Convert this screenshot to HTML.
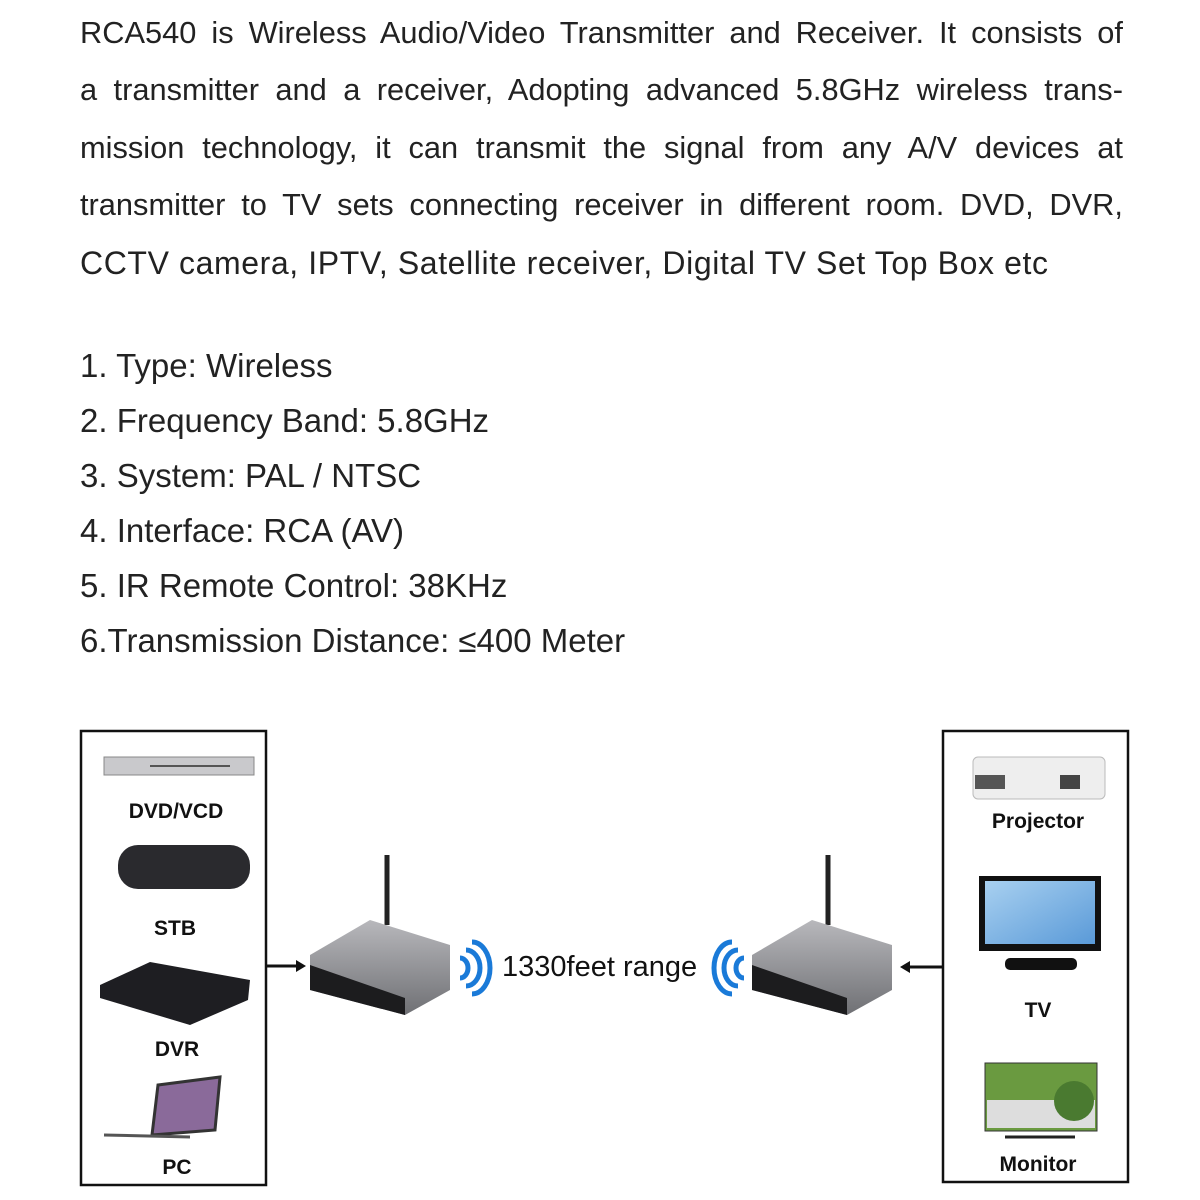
<!DOCTYPE html>
<html><head><meta charset="utf-8"><style>
body{margin:0;width:1200px;height:1200px;background:#fff;position:relative;overflow:hidden;font-family:"Liberation Sans",sans-serif;color:#222}
.l{position:absolute;left:80px;width:1043px;font-size:32px;letter-spacing:0.6px;line-height:34px;white-space:nowrap}
.j{text-align:justify;text-align-last:justify;white-space:normal;font-size:31px;letter-spacing:0;width:1050px;transform-origin:0 0;transform:scaleX(0.9933)}
.i{position:absolute;left:80px;font-size:33px;line-height:34px}
svg{position:absolute;left:0;top:0}
</style></head><body>
<div class="l j" style="top:16px">RCA540 is Wireless Audio/Video Transmitter and Receiver. It consists of</div>
<div class="l j" style="top:73px">a transmitter and a receiver, Adopting advanced 5.8GHz wireless trans-</div>
<div class="l j" style="top:131px">mission technology, it can transmit the signal from any A/V devices at</div>
<div class="l j" style="top:188px">transmitter to TV sets connecting receiver in different room. DVD, DVR,</div>
<div class="l" style="top:246px">CCTV camera, IPTV, Satellite receiver, Digital TV Set Top Box etc</div>
<div class="i" style="top:349px">1. Type: Wireless</div>
<div class="i" style="top:404px">2. Frequency Band: 5.8GHz</div>
<div class="i" style="top:459px">3. System: PAL / NTSC</div>
<div class="i" style="top:514px">4. Interface: RCA (AV)</div>
<div class="i" style="top:569px">5. IR Remote Control: 38KHz</div>
<div class="i" style="top:624px">6.Transmission Distance: ≤400 Meter</div>
<svg width="1200" height="1200" viewBox="0 0 1200 1200">
<defs>
<linearGradient id="g" x1="0" y1="0" x2="0" y2="1"><stop offset="0" stop-color="#b8b8bc"/><stop offset="1" stop-color="#6f7074"/></linearGradient>
<linearGradient id="tv" x1="0" y1="0" x2="1" y2="1"><stop offset="0" stop-color="#a8d0f0"/><stop offset="1" stop-color="#5a9ad8"/></linearGradient>
</defs>
<g fill="none" stroke="#111" stroke-width="2.5">
<rect x="81" y="731" width="185" height="454"/>
<rect x="943" y="731" width="185" height="451"/>
</g>
<rect x="104" y="757" width="150" height="18" fill="#c9c9cc" stroke="#888"/>
<line x1="150" y1="766" x2="230" y2="766" stroke="#555" stroke-width="2"/>
<text x="176" y="818" font-size="21" font-weight="bold" text-anchor="middle" fill="#111">DVD/VCD</text>
<rect x="118" y="845" width="132" height="44" rx="20" fill="#2a2a2e"/>
<text x="175" y="935" font-size="21" font-weight="bold" text-anchor="middle" fill="#111">STB</text>
<polygon points="100,985 150,962 250,980 248,1000 190,1025 100,998" fill="#1e1e22"/>
<text x="177" y="1056" font-size="21" font-weight="bold" text-anchor="middle" fill="#111">DVR</text>
<polygon points="158,1085 220,1077 215,1130 152,1135" fill="#8a6a9a" stroke="#333" stroke-width="3"/>
<line x1="104" y1="1135" x2="190" y2="1137" stroke="#555" stroke-width="3"/>
<text x="177" y="1174" font-size="21" font-weight="bold" text-anchor="middle" fill="#111">PC</text>
<rect x="973" y="757" width="132" height="42" rx="5" fill="#eee" stroke="#bbb"/>
<rect x="975" y="775" width="30" height="14" fill="#555"/>
<rect x="1060" y="775" width="20" height="14" fill="#444"/>
<text x="1038" y="828" font-size="21" font-weight="bold" text-anchor="middle" fill="#111">Projector</text>
<rect x="979" y="876" width="122" height="75" fill="#111"/>
<rect x="985" y="881" width="110" height="63" fill="url(#tv)"/>
<rect x="1005" y="958" width="72" height="12" rx="5" fill="#111"/>
<text x="1038" y="1017" font-size="21" font-weight="bold" text-anchor="middle" fill="#111">TV</text>
<rect x="985" y="1063" width="112" height="68" fill="#6a9a40" stroke="#333"/>
<rect x="987" y="1100" width="108" height="28" fill="#ddd"/>
<circle cx="1074" cy="1101" r="20" fill="#4a7a30"/>
<line x1="1005" y1="1137" x2="1075" y2="1137" stroke="#222" stroke-width="3"/>
<text x="1038" y="1171" font-size="21" font-weight="bold" text-anchor="middle" fill="#111">Monitor</text>
<line x1="266" y1="966" x2="300" y2="966" stroke="#111" stroke-width="3"/>
<polygon points="296,960 306,966 296,972" fill="#111"/>
<line x1="905" y1="967" x2="943" y2="967" stroke="#111" stroke-width="3"/>
<polygon points="910,961 900,967 910,973" fill="#111"/>
<line x1="387" y1="855" x2="387" y2="925" stroke="#222" stroke-width="5"/>
<polygon points="310,955 370,920 450,945 450,990 405,1015 310,990" fill="url(#g)"/>
<polygon points="310,965 405,998 405,1015 310,990" fill="#1c1c1e"/>
<line x1="828" y1="855" x2="828" y2="925" stroke="#222" stroke-width="5"/>
<polygon points="752,955 812,920 892,945 892,990 847,1015 752,990" fill="url(#g)"/>
<polygon points="752,965 847,998 847,1015 752,990" fill="#1c1c1e"/>
<g fill="none" stroke="#1a7ad8" stroke-width="5">
<path d="M460,958 a8,10 0 0 1 0,20"/>
<path d="M466,950 a14,18 0 0 1 0,36"/>
<path d="M472,942 a18,26 0 0 1 0,52"/>
<path d="M744,958 a8,10 0 0 0 0,20"/>
<path d="M738,950 a14,18 0 0 0 0,36"/>
<path d="M732,942 a18,26 0 0 0 0,52"/>
</g>
<text x="502" y="976" font-size="29" fill="#111">1330feet range</text>
</svg>
</body></html>
